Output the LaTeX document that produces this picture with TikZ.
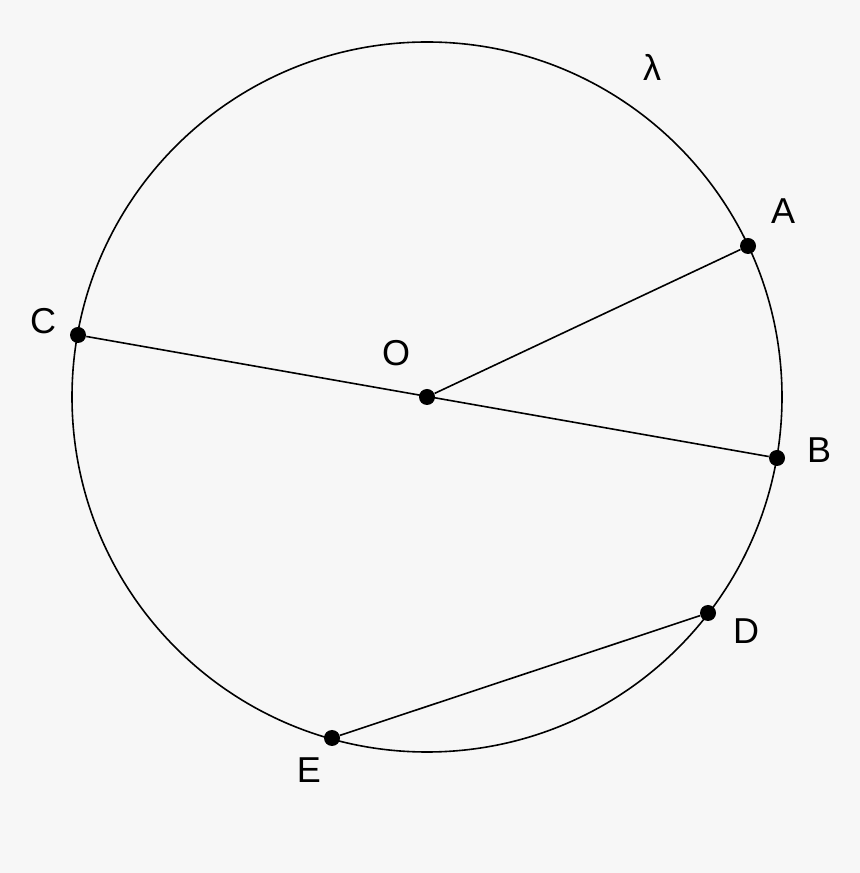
\documentclass[tikz,border=0pt]{standalone}
\usepackage{fontspec}
\setmainfont{Liberation Sans}

\begin{document}
\begin{tikzpicture}[x=0.5pt,y=0.5pt,
    dot/.style={circle,fill=black,inner sep=0pt,minimum size=8pt},
    lbl/.style={font=\fontsize{18}{21}\selectfont,inner sep=0pt}]
    \fill[fill=black!3] (0,0) rectangle (860,873);
    \useasboundingbox (0,0) rectangle (860,873);
    \draw[line width=0.8pt] (427,476) circle (177.5pt);
    \node[dot] (O) at (427,476) {};
    \node[dot] (A) at (748,627) {};
    \node[dot] (B) at (777,415) {};
    \node[dot] (C) at (78,538) {};
    \node[dot] (D) at (708,260) {};
    \node[dot] (E) at (332,135) {};
    \draw[line width=0.8pt] (O) -- (A);
    \draw[line width=0.8pt] (C) -- (B);
    \draw[line width=0.8pt] (D) -- (E);
    \node[lbl] (lA) at (783,662) {A};
    \node[lbl] (lB) at (819,423) {B};
    \node[lbl] (lC) at (43,552) {C};
    \node[lbl] (lD) at (746,242) {D};
    \node[lbl] (lE) at (309,103) {E};
    \node[lbl] (lO) at (396,520) {O};
    \node[lbl] (lambda) at (652,806) {λ};
\end{tikzpicture}
\end{document}
